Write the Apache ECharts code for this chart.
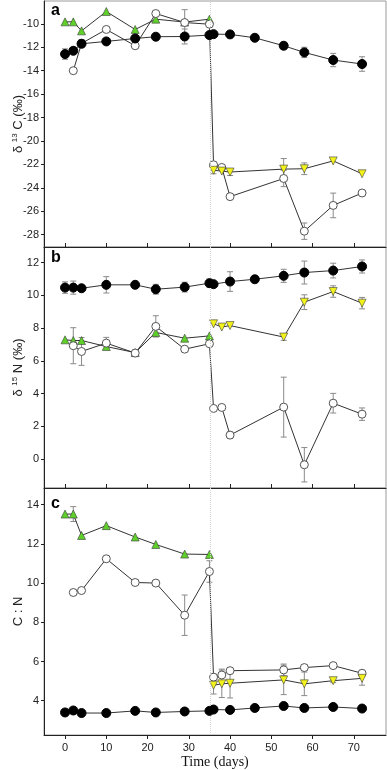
<!DOCTYPE html>
<html><head><meta charset="utf-8">
<script src="https://cdn.jsdelivr.net/npm/echarts@6/dist/echarts.min.js"></script>
<style>html,body{margin:0;padding:0;background:#fff}#c{width:387px;height:770px}</style>
</head><body><div id="c"></div>
<script>
// ---------- data ----------
const daysBlack = [0,2,4,10,17,22,29,35,36,40,46,53,58,65,72];
const daysGreen = [0,2,4,10,17,22,29,35];
const daysWhite = [2,4,10,17,22,29,35,36,38,40,53,58,65,72];
const daysYellow = [36,38,40,53,58,65,72];
const xTicks = [0,10,20,30,40,50,60,70];
const treatmentDay = 35.3;

// panel a: delta 13C
const blackC = [-12.58,-12.3,-11.7,-11.5,-11.25,-11.1,-11.08,-10.96,-10.88,-10.9,-11.19,-11.87,-12.44,-13.09,-13.43];
const blackCErr = [0.45,0.25,0.3,0.2,0.2,0.2,0.64,0.2,0.2,0.3,0.2,0.3,0.44,0.57,0.62];
const greenC = [-9.83,-9.83,-10.6,-8.95,-10.48,-9.6,-9.85,-9.6];
const greenCErr = [0,0,0,0,0,0,0,0];
const whiteC = [-14.0,-11.67,-10.48,-11.87,-9.12,-9.89,-10.03,-22.03,-22.26,-24.75,-23.2,-27.7,-25.5,-24.44];
const whiteCErr = [0,0.3,0,0,0,1.1,0,0.2,0,0,0.7,0.7,1.05,0];
const yellowC = [-22.5,-22.57,-22.65,-22.4,-22.37,-21.7,-22.8];
const yellowCErr = [0.3,0,0.3,0.9,0.5,0,0];
const yTicksA = [-28,-26,-24,-22,-20,-18,-16,-14,-12,-10];

// panel b: delta 15N
const blackN = [10.47,10.47,10.43,10.64,10.64,10.37,10.5,10.74,10.68,10.84,10.98,11.19,11.39,11.51,11.76];
const blackNErr = [0.35,0.4,0,0.5,0,0.3,0.3,0.25,0,0.6,0.2,0.4,0.7,0.45,0.4];
const greenN = [7.28,7.24,7.24,6.87,6.5,7.73,7.38,7.52];
const greenNErr = [0,0,0,0,0,0,0,0];
const whiteN = [6.92,6.57,7.08,6.47,8.1,6.71,7.04,3.09,3.15,1.46,3.17,-0.35,3.41,2.74];
const whiteNErr = [1.1,0.85,0.35,0.2,0.65,0,0,0,0,0.2,1.83,1.05,0.6,0.38];
const yellowN = [8.26,8.06,8.15,7.45,9.58,10.23,9.52];
const yellowNErr = [0,0,0,0.2,0.45,0.35,0.35];
const yTicksB = [0,2,4,6,8,10,12];

// panel c: C:N
const blackCN = [3.4,3.5,3.37,3.37,3.48,3.4,3.45,3.48,3.55,3.53,3.63,3.73,3.63,3.68,3.6];
const blackCNErr = [0,0,0,0,0,0,0,0,0,0,0,0,0,0,0];
const greenCN = [13.52,13.52,12.43,12.93,12.35,11.97,11.48,11.46];
const greenCNErr = [0,0.38,0,0,0,0,0,0];
const whiteCN = [9.52,9.62,11.24,10.03,10.0,8.36,10.59,5.2,5.31,5.53,5.57,5.69,5.79,5.4];
const whiteCNErr = [0,0,0,0.1,0,1.03,0.55,0.15,0.3,0,0.3,0.15,0.1,0.15];
const yellowCN = [4.79,4.86,4.89,5.06,4.86,5.02,5.14];
const yellowCNErr = [0.45,0.7,0.75,0.75,0.6,0.1,0.35];
const yTicksC = [4,6,8,10,12,14];

// ---------- chart ----------
const chart = echarts.init(document.getElementById('c'), null, {renderer:'canvas'});
const FONT = '"Liberation Sans", Arial, sans-serif';
const lineCol = '#333';

function pairs(xs, ys){ return xs.map((x,i)=>[x, ys[i]]); }
function errs(xs, ys, es){ return xs.map((x,i)=>[x, ys[i]-es[i], ys[i]+es[i]]).filter((d,i)=>es[i]>0); }

function errSeries(idx, data){
  return {
    type:'custom', xAxisIndex:idx, yAxisIndex:idx, z:2, silent:true,
    data: data,
    renderItem: function(params, api){
      const x = api.value(0);
      const p1 = api.coord([x, api.value(1)]);
      const p2 = api.coord([x, api.value(2)]);
      const w = 3;
      const st = {stroke:'#8a8a8a', lineWidth:1};
      return {type:'group', children:[
        {type:'line', shape:{x1:p1[0],y1:p1[1],x2:p2[0],y2:p2[1]}, style:st},
        {type:'line', shape:{x1:p1[0]-w,y1:p1[1],x2:p1[0]+w,y2:p1[1]}, style:st},
        {type:'line', shape:{x1:p2[0]-w,y1:p2[1],x2:p2[0]+w,y2:p2[1]}, style:st}
      ]};
    }
  };
}

function lineSeries(idx, data, kind){
  const base = {type:'line', xAxisIndex:idx, yAxisIndex:idx, data:data, z:3,
    lineStyle:{color:lineCol, width:1}, animation:false, silent:true};
  if(kind==='black') Object.assign(base,{symbol:'circle', symbolSize:9, itemStyle:{color:'#000', borderColor:'#000', borderWidth:1}, z:5});
  if(kind==='white') Object.assign(base,{symbol:'circle', symbolSize:8, itemStyle:{color:'#fff', borderColor:'#555', borderWidth:1}, z:4});
  if(kind==='green') Object.assign(base,{symbol:'triangle', symbolSize:8, itemStyle:{color:'#5fcf2a', borderColor:'#3a3a3a', borderWidth:0.6}, z:4});
  if(kind==='yellow') Object.assign(base,{symbol:'triangle', symbolRotate:180, symbolSize:8, itemStyle:{color:'#f2f21a', borderColor:'#3a3a3a', borderWidth:0.6}, z:4});
  return base;
}

function vline(idx){
  return {type:'line', xAxisIndex:idx, yAxisIndex:idx, data:[], z:1, silent:true,
    markLine:{silent:true, symbol:'none', label:{show:false}, animation:false,
      lineStyle:{color:'#d4d4d4', type:'dotted', width:1},
      data:[{xAxis:treatmentDay}]}};
}

const grids = [
  {left:44, right:1, top:1, height:246},
  {left:44, right:1, top:247, height:241},
  {left:44, right:1, top:488, height:247}
].map(g=>Object.assign(g,{show:true, borderColor:'#9a9a9a', borderWidth:1, containLabel:false, outerBoundsMode:'none'}));

function xAxis(idx, showLabel){
  return {type:'value', gridIndex:idx, min:-5.1, max:77.8,
    axisLine:{show:true, onZero:false, lineStyle:{color:'#222', width:1}},
    axisTick:{show:true, inside:!showLabel, length:4, customValues:xTicks, lineStyle:{color:'#222'}},
    axisLabel:{show:showLabel, customValues:xTicks, fontFamily:FONT, fontSize:11, color:'#222', margin:7},
    splitLine:{show:false},
    name: showLabel ? 'Time (days)' : '', nameLocation:'middle', nameGap:20,
    nameTextStyle:{fontFamily:'"Liberation Serif","Times New Roman",serif', fontSize:14, color:'#111'}};
}
function yAxis(idx, min, max, ticks, name){
  return {type:'value', gridIndex:idx, min:min, max:max,
    axisLine:{show:true, onZero:false, lineStyle:{color:'#222', width:1}},
    axisTick:{show:true, inside:false, length:3, customValues:ticks, lineStyle:{color:'#222'}},
    axisLabel:{customValues:ticks, fontFamily:FONT, fontSize:11, color:'#222', margin:5},
    splitLine:{show:false},
    name:name, nameLocation:'middle', nameGap:19, nameRotate:90, nameMoveOverlap:false,
    nameTextStyle:{fontFamily:FONT, fontSize:13, color:'#222',
      rich:{sup:{fontSize:8, verticalAlign:'top', fontFamily:FONT, color:'#222', padding:[0,0,6,0]}}}};
}

const series = [
  vline(0), vline(1), vline(2),
  // panel a
  errSeries(0, errs(daysBlack, blackC, blackCErr)),
  errSeries(0, errs(daysWhite, whiteC, whiteCErr)),
  errSeries(0, errs(daysYellow, yellowC, yellowCErr)),
  errSeries(0, errs(daysGreen, greenC, greenCErr)),
  lineSeries(0, pairs(daysBlack, blackC), 'black'),
  lineSeries(0, pairs(daysGreen, greenC), 'green'),
  lineSeries(0, pairs(daysWhite, whiteC), 'white'),
  lineSeries(0, pairs(daysYellow, yellowC), 'yellow'),
  // panel b
  errSeries(1, errs(daysBlack, blackN, blackNErr)),
  errSeries(1, errs(daysWhite, whiteN, whiteNErr)),
  errSeries(1, errs(daysYellow, yellowN, yellowNErr)),
  errSeries(1, errs(daysGreen, greenN, greenNErr)),
  lineSeries(1, pairs(daysBlack, blackN), 'black'),
  lineSeries(1, pairs(daysGreen, greenN), 'green'),
  lineSeries(1, pairs(daysWhite, whiteN), 'white'),
  lineSeries(1, pairs(daysYellow, yellowN), 'yellow'),
  // panel c
  errSeries(2, errs(daysBlack, blackCN, blackCNErr)),
  errSeries(2, errs(daysWhite, whiteCN, whiteCNErr)),
  errSeries(2, errs(daysYellow, yellowCN, yellowCNErr)),
  errSeries(2, errs(daysGreen, greenCN, greenCNErr)),
  lineSeries(2, pairs(daysBlack, blackCN), 'black'),
  lineSeries(2, pairs(daysGreen, greenCN), 'green'),
  lineSeries(2, pairs(daysWhite, whiteCN), 'white'),
  lineSeries(2, pairs(daysYellow, yellowCN), 'yellow')
];

chart.setOption({
  animation:false,
  backgroundColor:'#fff',
  grid: grids,
  xAxis:[xAxis(0,false), xAxis(1,false), xAxis(2,true)],
  yAxis:[
    yAxis(0, -29.05, -8.05, yTicksA, 'δ {sup|13} C (‰)'),
    yAxis(1, -1.77, 12.95, yTicksB, 'δ {sup|15} N (‰)'),
    yAxis(2, 2.25, 14.85, yTicksC, 'C : N')
  ],
  graphic:[
    {type:'text', left:51, top:3, style:{text:'a', font:'bold 16px '+FONT, fill:'#000'}},
    {type:'text', left:51, top:250, style:{text:'b', font:'bold 16px '+FONT, fill:'#000'}},
    {type:'text', left:51, top:496, style:{text:'c', font:'bold 16px '+FONT, fill:'#000'}}
  ],
  series: series
});
</script></body></html>
